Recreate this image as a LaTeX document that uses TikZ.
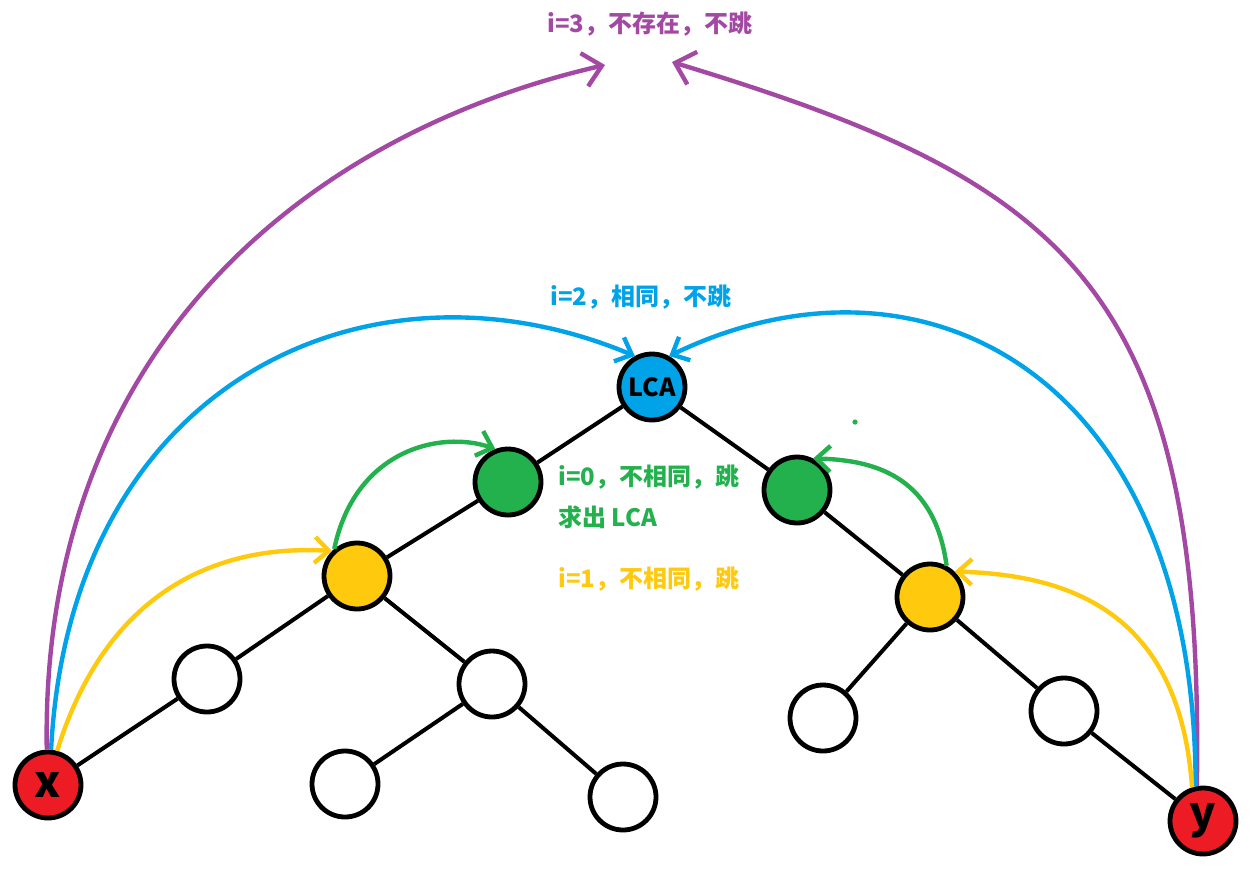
\documentclass[tikz,border=0pt]{standalone}
\usepackage{fontspec}
\setmainfont{Noto Sans CJK SC}
\usetikzlibrary{arrows.meta}
\definecolor{ppurple}{HTML}{A349A4}
\definecolor{pblue}{HTML}{00A2E8}
\definecolor{pgreen}{HTML}{22B14C}
\definecolor{pyellow}{HTML}{FFC90E}
\definecolor{pred}{HTML}{ED1C24}
\begin{document}
\begin{tikzpicture}[x=0.5pt,y=-0.5pt,
  tnode/.style={circle,draw=black,line width=2.4pt,minimum size=33pt,inner sep=0pt,fill=white},
  edge/.style={line width=2pt,black},
  jump/.style={line width=2.2pt,-{Straight Barb[length=7pt,width=13pt,line width=2.2pt]}},
  bigjump/.style={line width=2.2pt,-{Straight Barb[length=9pt,width=17pt,line width=2.2pt]}},
  lbl/.style={font=\bfseries\fontsize{12}{14}\selectfont,inner sep=0pt}]
\useasboundingbox (0,0) rectangle (1259,869);
% nodes
\node[tnode,fill=pblue,font=\bfseries\fontsize{12.5}{14}\selectfont] (lca) at (652,387) {LCA};
\node[tnode,fill=pgreen] (gl) at (508,482) {};
\node[tnode,fill=pgreen] (gr) at (797,490) {};
\node[tnode,fill=pyellow] (yl) at (357,576) {};
\node[tnode,fill=pyellow] (yr) at (930,597) {};
\node[tnode] (w1) at (207,679) {};
\node[tnode] (w2) at (492,684) {};
\node[tnode] (w3) at (345,784) {};
\node[tnode] (w4) at (623,797) {};
\node[tnode] (w5) at (823,718) {};
\node[tnode] (w6) at (1064,711) {};
\node[tnode,fill=pred,font=\bfseries\fontsize{22}{24}\selectfont] (x) at (48,785) {x};
\node[tnode,fill=pred,font=\bfseries\fontsize{22}{24}\selectfont] (y) at (1203,821) {y};
% tree edges
\draw[edge] (lca) -- (gl);
\draw[edge] (lca) -- (gr);
\draw[edge] (gl) -- (yl);
\draw[edge] (yl) -- (w1);
\draw[edge] (yl) -- (w2);
\draw[edge] (w1) -- (x);
\draw[edge] (w2) -- (w3);
\draw[edge] (w2) -- (w4);
\draw[edge] (gr) -- (yr);
\draw[edge] (yr) -- (w5);
\draw[edge] (yr) -- (w6);
\draw[edge] (w6) -- (y);
% coordinates for purple targets
\coordinate (pl) at (605,65);
\coordinate (pr) at (672,62);
% purple
\draw[bigjump,ppurple] (x.92) .. controls (40,350) and (305,134) .. (pl);
\draw[bigjump,ppurple] (y.100) .. controls (1205,280) and (1060,180) .. (pr);
% blue
\draw[jump,pblue] (x.85) .. controls (70,380) and (370,245) .. (lca.119);
\draw[jump,pblue] (y.102) .. controls (1195,370) and (920,235) .. (lca.61);
% yellow
\draw[jump,pyellow] (x.75) .. controls (110,580) and (230,545) .. (yl.135);
\draw[jump,pyellow] (y.108) .. controls (1180,620) and (1080,575) .. (yr.46);
% green
\draw[jump,pgreen] (yl.130) .. controls (355,450) and (440,430) .. (gl.111);
\draw[jump,pgreen] (yr.62) .. controls (935,480) and (880,460) .. (gr.63);
% labels
\node[lbl,text=ppurple] (t3) at (650,24) {i=3，不存在，不跳};
\node[lbl,text=pblue] (t2) at (641,297) {i=2，相同，不跳};
\node[lbl,text=pgreen,anchor=west] (t0) at (558,477) {i=0，不相同，跳};
\node[lbl,text=pgreen,anchor=west] (t0b) at (558,517) {求出 LCA};
\node[lbl,text=pyellow,anchor=west] (t1) at (558,579) {i=1，不相同，跳};
\fill[pgreen] (855,422) circle (1.3pt);
\end{tikzpicture}
\end{document}
